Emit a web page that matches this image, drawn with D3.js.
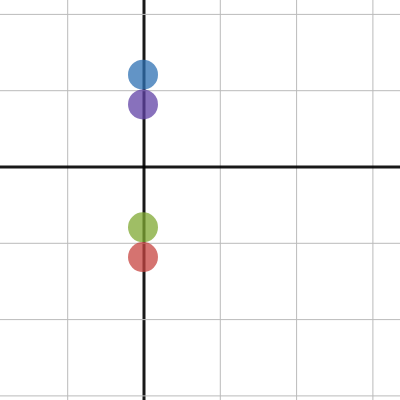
<!DOCTYPE html>
<html><head><meta charset="utf-8">
<script src="https://cdn.jsdelivr.net/npm/d3@7"></script>
<style>body{margin:0;background:#fff}</style>
</head><body>
<script>
var xs = [0, 0, 0, 0];
var ys = [1.21, 0.82, -0.79, -1.18];
var colors = ["#2d70b3", "#6042a6", "#7fa832", "#c74440"];
var gridX = [-1, 0, 1, 2, 3];
var gridY = [2, 1, 0, -1, -2, -3];

var width = 400, height = 400, unit = 76.3;
var x = d3.scaleLinear().domain([0, 1]).range([144, 144 + unit]);
var y = d3.scaleLinear().domain([0, 1]).range([167, 167 - unit]);

var svg = d3.select("body").append("svg")
	.attr("width", width)
	.attr("height", height);

svg.selectAll(".gx").data(gridX).enter().append("line")
	.attr("x1", d => x(d)).attr("x2", d => x(d))
	.attr("y1", 0).attr("y2", height)
	.attr("stroke", d => d == 0 ? "#000" : "#bbb")
	.attr("stroke-width", d => d == 0 ? 3 : 1)
	.attr("opacity", d => d == 0 ? 0.9 : 1);

svg.selectAll(".gy").data(gridY).enter().append("line")
	.attr("y1", d => y(d)).attr("y2", d => y(d))
	.attr("x1", 0).attr("x2", width)
	.attr("stroke", d => d == 0 ? "#000" : "#bbb")
	.attr("stroke-width", d => d == 0 ? 3 : 1)
	.attr("opacity", d => d == 0 ? 0.9 : 1);

svg.selectAll("circle").data(ys).enter().append("circle")
	.attr("cx", (d, i) => x(xs[i]) - 1)
	.attr("cy", d => y(d))
	.attr("r", 15)
	.attr("fill", (d, i) => colors[i])
	.attr("opacity", 0.75);
</script>
</body></html>
